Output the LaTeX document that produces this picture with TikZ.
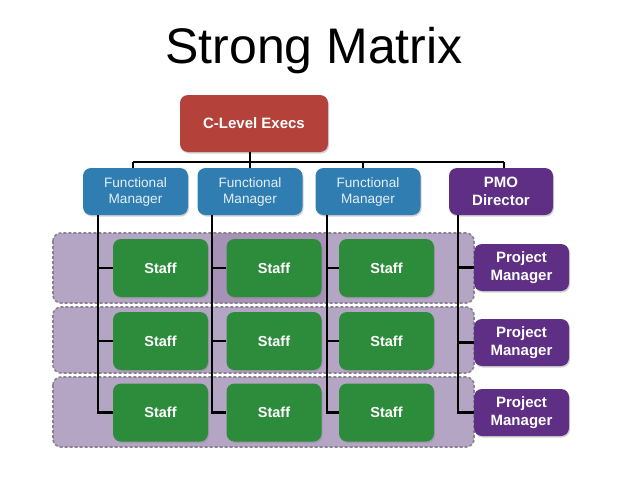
\documentclass[tikz,border=0pt]{standalone}
\usepackage{fontspec}
\setmainfont{Liberation Sans}
\usetikzlibrary{shadows}
\definecolor{execred}{HTML}{B5423A}
\definecolor{fmblue}{HTML}{2F7DB1}
\definecolor{pmopurple}{HTML}{5F2F85}
\definecolor{staffgreen}{HTML}{2D8C3C}
\definecolor{bandpurple}{HTML}{B5A5C5}
\definecolor{banddark}{HTML}{A891B6}
\definecolor{bandedge}{HTML}{8A8290}
\definecolor{fmtext}{HTML}{E4F0F8}
\tikzset{
  boxbase/.style={rounded corners=8pt, inner sep=0pt, align=center,
    drop shadow={opacity=0.35, shadow xshift=1pt, shadow yshift=-1.5pt}},
  execbox/.style={boxbase, fill=execred, minimum width=148pt, minimum height=57pt,
    text=white, font=\bfseries\fontsize{15}{18}\selectfont},
  fmbox/.style={boxbase, fill=fmblue, minimum width=105pt, minimum height=47pt,
    text=fmtext, font=\fontsize{13.6}{16}\selectfont},
  pmobox/.style={boxbase, fill=pmopurple, minimum width=104pt, minimum height=47pt,
    text=white, font=\bfseries\fontsize{15}{18}\selectfont},
  staffbox/.style={boxbase, fill=staffgreen, minimum width=95pt, minimum height=58pt,
    text=white, font=\bfseries\fontsize{14.5}{17}\selectfont},
  pmbox/.style={boxbase, fill=pmopurple, minimum width=95pt, minimum height=47pt,
    text=white, font=\bfseries\fontsize{15}{18}\selectfont},
  band/.style={rounded corners=8pt, fill=bandpurple},
  bandline/.style={rounded corners=8pt, draw=bandedge, line width=1.6pt, dash pattern=on 3pt off 2pt},
  link/.style={line width=2.2pt, black},
}
\begin{document}
\begin{tikzpicture}[x=1pt, y=-1pt]
\useasboundingbox (0,0) rectangle (638,479);
\fill[white] (0,0) rectangle (638,479);
% title
\node[anchor=base] (title) at (314,63) {\fontsize{50}{52}\selectfont Strong Matrix};
% bands
\foreach \t/\b in {233/303, 307/373, 377/447} {
  \fill[band] (53,\t) rectangle (474,\b);
}
\fill[banddark, rounded corners=6pt] (213,233) rectangle (327,303);
\foreach \t/\b in {233/303, 307/373, 377/447} {
  \draw[bandline] (53,\t) rectangle (474,\b);
}
% nodes
\node[execbox] (exec) at (254,123.5) {C-Level Execs};
\node[fmbox] (fm1) at (135.5,191.5) {Functional\\Manager};
\node[fmbox] (fm2) at (250,191.5) {Functional\\Manager};
\node[fmbox] (fm3) at (368,191.5) {Functional\\Manager};
\node[pmobox] (pmo) at (501,191.5) {PMO\\Director};
\foreach \r/\y in {1/268, 2/341, 3/412.5} {
  \node[staffbox] (s1\r) at (160.5,\y) {Staff};
  \node[staffbox] (s2\r) at (274,\y) {Staff};
  \node[staffbox] (s3\r) at (386.5,\y) {Staff};
}
\node[pmbox] (pm1) at (521.5,267.5) {Project\\Manager};
\node[pmbox] (pm2) at (521.5,342.5) {Project\\Manager};
\node[pmbox] (pm3) at (521.5,412.5) {Project\\Manager};
% connectors
\coordinate (busL) at (133,162);
\coordinate (busR) at (504,162);
\coordinate (bus3) at (363,162);
\draw[link] (busL) -- (busR);
\draw[link] (exec.south -| 250,0) -- (250,162);
\draw[link] (busL) -- (busL |- fm1.north);
\draw[link] (fm2.north) -- (fm2.north |- busL);
\draw[link] (bus3) -- (bus3 |- fm3.north);
\draw[link] (busR) -- (busR |- pmo.north);
% functional columns
\foreach \c/\x in {1/98, 2/212, 3/327} {
  \draw[link] (fm\c.south -| \x,0) -- (\x,0 |- s\c3.west) -- (s\c3.west);
  \draw[link] (\x,0 |- s\c1.west) -- (s\c1.west);
  \draw[link] (\x,0 |- s\c2.west) -- (s\c2.west);
}
\draw[link] (pmo.south -| 458,0) -- (458,0 |- pm3.west) -- (pm3.west);
\draw[link] (458,0 |- pm1.west) -- (pm1.west);
\draw[link] (458,0 |- pm2.west) -- (pm2.west);
\end{tikzpicture}
\end{document}
